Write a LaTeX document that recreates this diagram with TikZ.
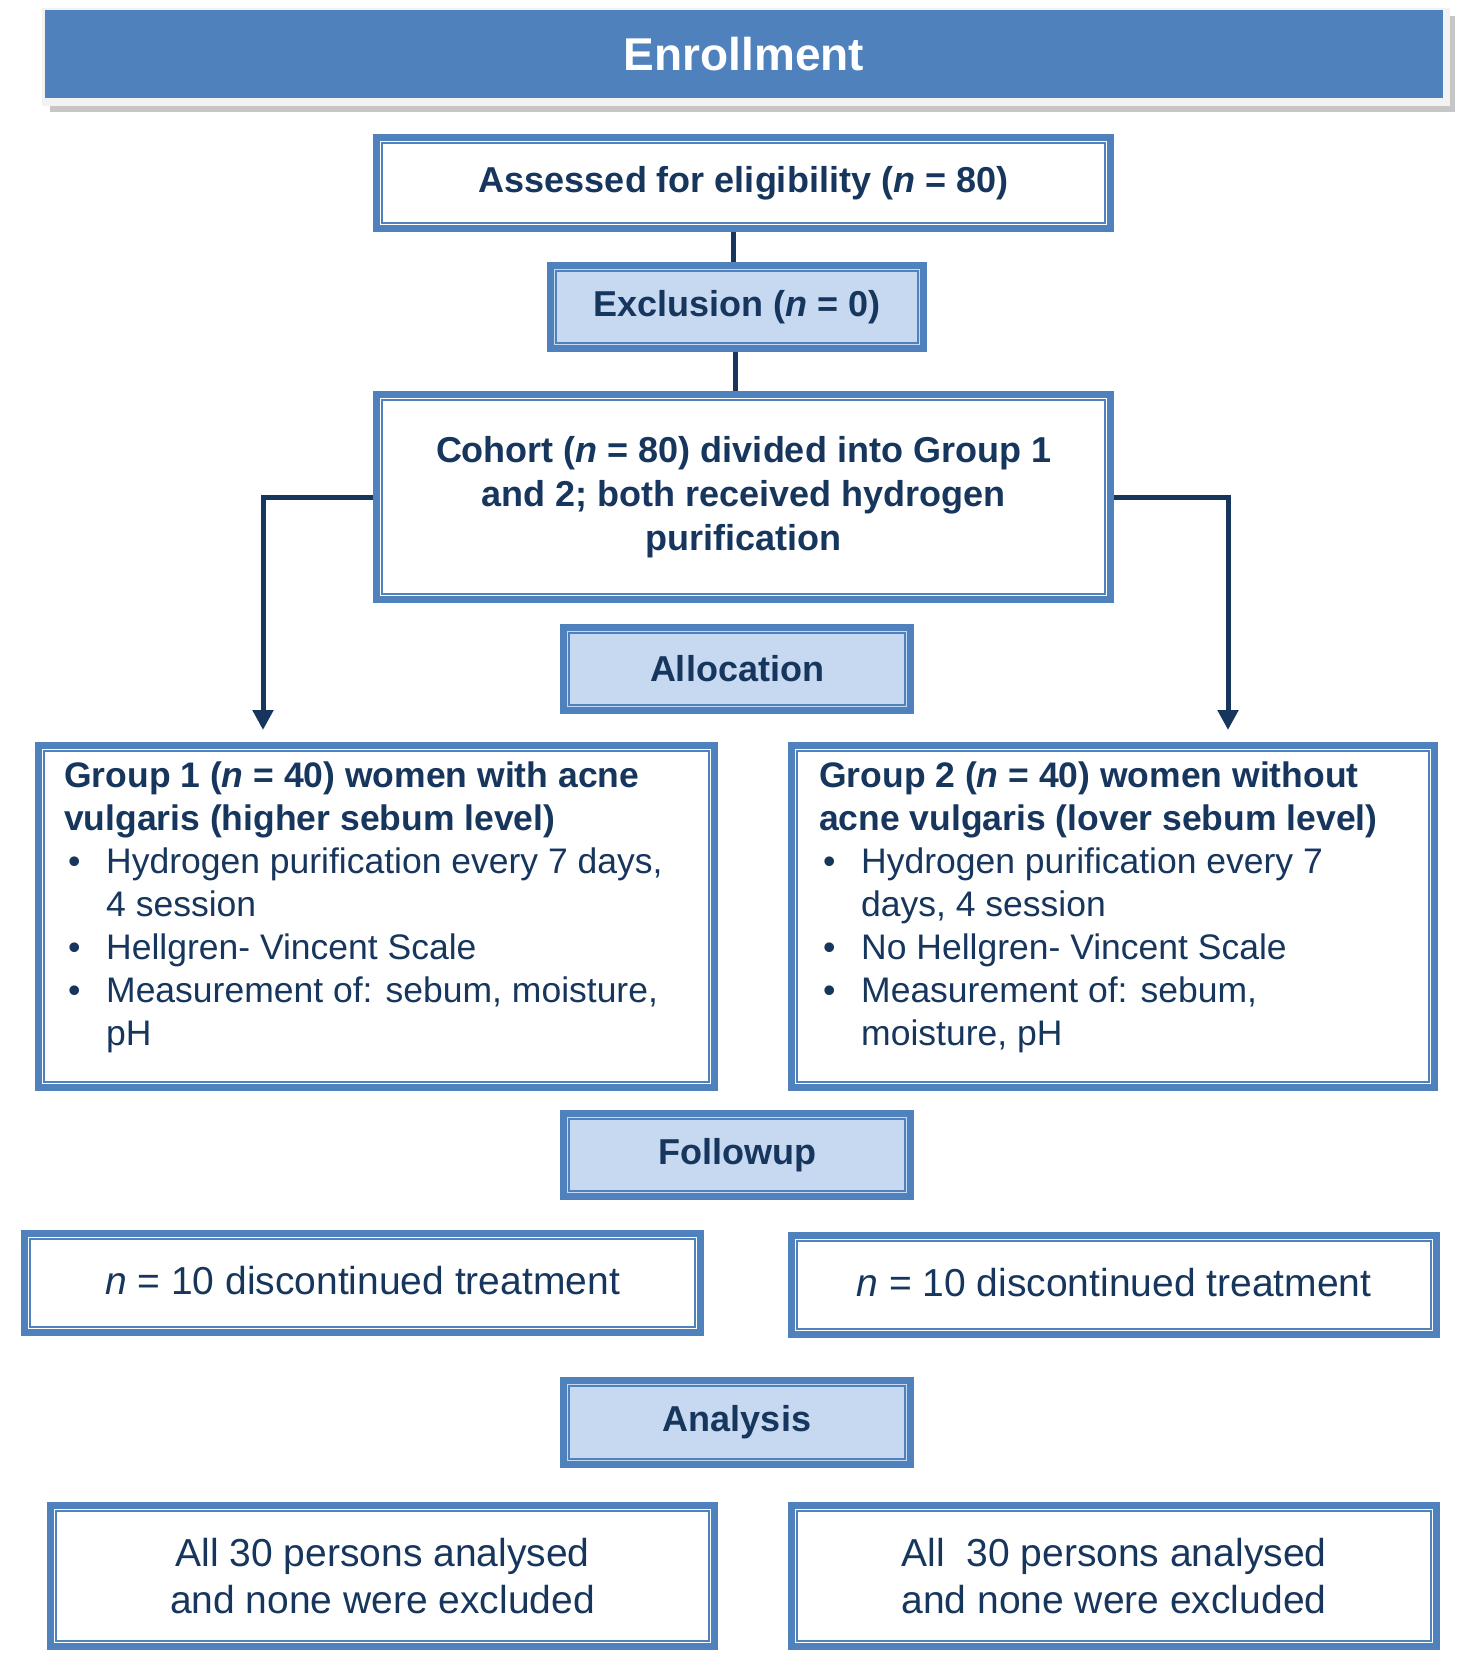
\documentclass[tikz,border=0pt]{standalone}
\usepackage{fontspec}
\setmainfont{Liberation Sans}
\usetikzlibrary{arrows.meta}
\definecolor{bb}{HTML}{4F81BD}
\definecolor{lb}{HTML}{C6D9F1}
\definecolor{tx}{HTML}{17365D}
\newcommand{\bl}{\makebox[42pt][l]{\hspace{4pt}\textbullet}}
\newcommand{\ind}{\hspace*{42pt}}
\begin{document}
\begin{tikzpicture}[x=1pt,y=-1pt,
 box/.style={draw=bb,line width=7pt,fill=white,inner sep=0pt,font=\fontsize{39}{47}\selectfont,text=tx,align=center},
 hd/.style={box,fill=lb,font=\fontsize{36}{43}\selectfont\bfseries},
 gt/.style={anchor=north west,inner sep=0pt,text=tx,font=\fontsize{35.5}{43}\selectfont,align=left},
 conn/.style={draw=tx,line width=5pt},
 inner/.style={draw=bb,line width=2pt}]
\useasboundingbox (0,0) rectangle (1471,1655);
\fill[gray!45] (50,16) rectangle (1455,112);
\fill[gray!10] (42,8) rectangle (1450,106);
\node[fill=bb,minimum width=1398,minimum height=88,text=white,font=\fontsize{46}{50}\selectfont\bfseries] (enr) at (744,54) {Enrollment};
\node[box,minimum width=734,minimum height=91,font=\fontsize{36}{43}\selectfont\bfseries] (ass) at (743.5,183) {Assessed for eligibility (\textit{n} = 80)};
\node[hd,minimum width=373,minimum height=83] (exc) at (737,307) {Exclusion (\textit{n} = 0)};
\node[box,minimum width=734,minimum height=205,font=\fontsize{36}{44}\selectfont\bfseries] (coh) at (743.5,497) {Cohort (\textit{n} = 80) divided into Group 1\\and 2; both received hydrogen\\purification};
\node[hd,minimum width=347,minimum height=83] (all) at (737,669) {Allocation};
\node[box,minimum width=676,minimum height=342] (g1) at (376.5,916.5) {};
\node[gt] (g1t) at (64,762) {\textbf{Group 1 (\textit{n} = 40) women with acne}\\\textbf{vulgaris (higher sebum level)}\\\bl Hydrogen purification every 7 days,\\\ind 4 session\\\bl Hellgren- Vincent Scale\\\bl Measurement of: sebum, moisture,\\\ind pH};
\node[box,minimum width=643,minimum height=342] (g2) at (1113,916.5) {};
\node[gt] (g2t) at (819,762) {\textbf{Group 2 (\textit{n} = 40) women without}\\\textbf{acne vulgaris (lover sebum level)}\\\bl Hydrogen purification every 7\\\ind days, 4 session\\\bl No Hellgren- Vincent Scale\\\bl Measurement of: sebum,\\\ind moisture, pH};
\node[hd,minimum width=347,minimum height=83] (fol) at (737,1155) {Followup};
\node[box,minimum width=676,minimum height=99] (d1) at (362.5,1283) {\raisebox{6pt}{\textit{n} = 10 discontinued treatment}};
\node[box,minimum width=645,minimum height=99] (d2) at (1114,1285) {\raisebox{6pt}{\textit{n} = 10 discontinued treatment}};
\node[hd,minimum width=347,minimum height=84] (ana) at (737,1422) {Analysis};
\node[box,minimum width=664,minimum height=141] (a1) at (382.5,1576) {All 30 persons analysed\\and none were excluded};
\node[box,minimum width=645,minimum height=141] (a2) at (1114,1576) {All\ \ 30 persons analysed\\and none were excluded};
\foreach \n in {ass,exc,coh,all,g1,g2,fol,d1,d2,ana,a1,a2}
  \draw[inner] ([xshift=9pt,yshift=-9pt]\n.north west) rectangle ([xshift=-9pt,yshift=9pt]\n.south east);
\draw[conn] (ass.south -| 733,0) -- (exc.north -| 733,0);
\draw[conn] (exc.south -| 735,0) -- (coh.north -| 735,0);
\coordinate (la) at (263,730);
\coordinate (ra) at (1228,730);
\draw[conn,-{Triangle[length=20pt,width=20pt]}] (coh.west) -| (la);
\draw[conn,-{Triangle[length=20pt,width=20pt]}] (coh.east) -| (ra);
\end{tikzpicture}
\end{document}
